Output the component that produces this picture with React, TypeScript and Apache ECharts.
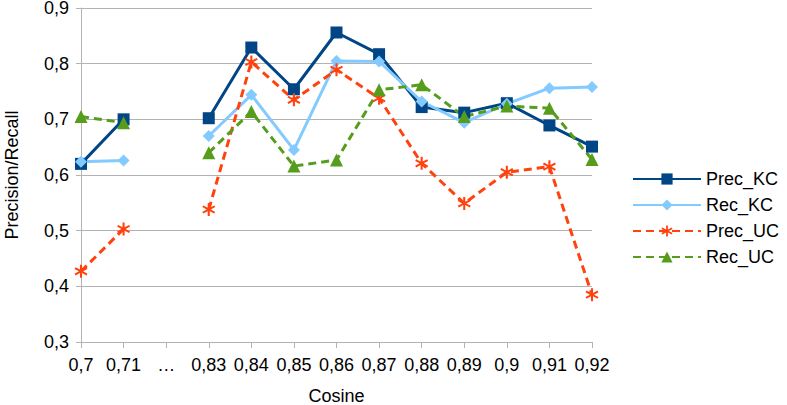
import React, { useEffect, useRef } from "react";
import * as echarts from "echarts";

const categories = ["0,7", "0,71", "…", "0,83", "0,84", "0,85", "0,86", "0,87", "0,88", "0,89", "0,9", "0,91", "0,92"];
const precKC = [0.620, 0.700, null, 0.702, 0.829, 0.754, 0.856, 0.817, 0.722, 0.712, 0.729, 0.689, 0.651];
const recKC = [0.624, 0.626, null, 0.670, 0.744, 0.645, 0.805, 0.804, 0.732, 0.694, 0.728, 0.756, 0.758];
const precUC = [0.427, 0.503, null, 0.538, 0.803, 0.735, 0.789, 0.738, 0.621, 0.549, 0.605, 0.615, 0.385];
const recUC = [0.705, 0.694, null, 0.640, 0.714, 0.616, 0.627, 0.753, 0.762, 0.705, 0.724, 0.720, 0.628];
const seriesNames = ["Prec_KC", "Rec_KC", "Prec_UC", "Rec_UC"];

const ASTERISK =
  "path://M0.9,6L-0.9,6L-0.9,1.559L-4.746,3.779L-5.646,2.221L-1.8,0L-5.646,-2.221L-4.746,-3.779L-0.9,-1.559L-0.9,-6L0.9,-6L0.9,-1.559L4.746,-3.779L5.646,-2.221L1.8,0L5.646,2.221L4.746,3.779L0.9,1.559Z";

const FONT = "Liberation Sans";
const GRAY = "#b3b3b3";

export default function App() {
  const ref = useRef<HTMLDivElement>(null);
  useEffect(() => {
    if (!ref.current) return;
    const chart = echarts.init(ref.current, undefined, { renderer: "svg" });
    const mk = (name: string, data: (number | null)[], color: string, symbol: string, size: number, dashed: boolean) => ({
      name,
      type: "line",
      data,
      connectNulls: false,
      symbol,
      symbolSize: size,
      showAllSymbol: true,
      itemStyle: { color },
      lineStyle: { color, width: 3, type: dashed ? [8, 5] : "solid" },
      emphasis: { disabled: true },
    });
    chart.setOption({
      animation: false,
      textStyle: { fontFamily: FONT },
      grid: { left: 81, right: 195, top: 8, bottom: 63, containLabel: false, outerBoundsMode: "none" },
      legend: {
        orient: "vertical",
        left: 632,
        top: 170,
        padding: 0,
        itemWidth: 68,
        itemHeight: 14,
        itemGap: 8,
        textStyle: { fontFamily: FONT, fontSize: 18, color: "#000" },
        data: seriesNames,
      },
      xAxis: {
        type: "category",
        data: categories,
        boundaryGap: false,
        name: "Cosine",
        nameLocation: "middle",
        nameGap: 45,
        nameTextStyle: { fontFamily: FONT, fontSize: 18, color: "#000" },
        axisLine: { lineStyle: { color: GRAY, width: 1 } },
        axisTick: { show: true, length: 6, lineStyle: { color: GRAY } },
        axisLabel: { interval: 0, margin: 14, fontFamily: FONT, fontSize: 18, color: "#000" },
        splitLine: { show: false },
      },
      yAxis: {
        type: "value",
        min: 0.3,
        max: 0.9,
        interval: 0.1,
        name: "Precision/Recall",
        nameLocation: "middle",
        nameGap: 60,
        nameTextStyle: { fontFamily: FONT, fontSize: 18, color: "#000" },
        axisLine: { show: true, lineStyle: { color: GRAY, width: 1 } },
        axisTick: { show: true, length: 5, lineStyle: { color: GRAY } },
        axisLabel: {
          margin: 12,
          lineHeight: 12,
          padding: [4, 0, 0, 0],
          fontFamily: FONT,
          fontSize: 18,
          color: "#000",
          formatter: (v: number) => v.toFixed(1).replace(".", ","),
        },
        splitLine: { show: true, lineStyle: { color: GRAY, width: 1 } },
      },
      series: [
        mk("Prec_KC", precKC, "#004586", "rect", 12, false),
        mk("Rec_KC", recKC, "#83caff", "diamond", 12, false),
        mk("Prec_UC", precUC, "#ff420e", ASTERISK, 13, true),
        mk("Rec_UC", recUC, "#579d1c", "triangle", 13, true),
      ],
    });
    return () => chart.dispose();
  }, []);
  return <div ref={ref} style={{ position: "absolute", left: 0, top: 0, width: 787, height: 405 }} />;
}
